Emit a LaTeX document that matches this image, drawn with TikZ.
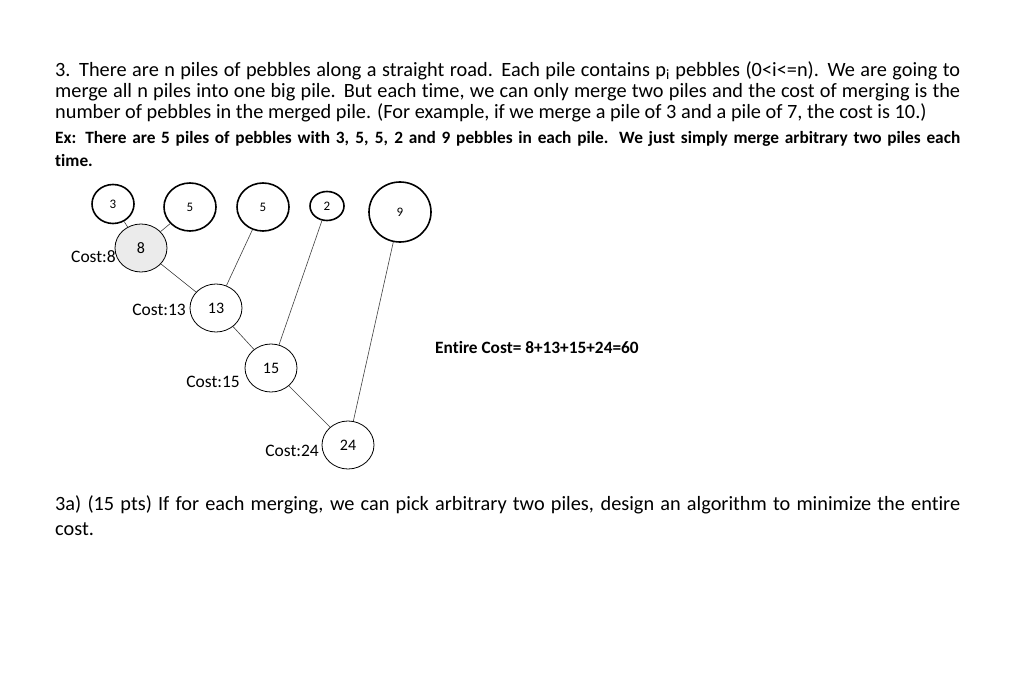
\documentclass[tikz,border=0pt]{standalone}
\usepackage{fontspec}
\setmainfont{Carlito}[Ligatures={NoCommon}]
\usetikzlibrary{shapes.geometric}
\begin{document}
\begin{tikzpicture}[x=1pt,y=-1pt,
  pile/.style={draw,ellipse,line width=1.6pt,inner sep=0pt,font=\fontsize{13}{15}\selectfont},
  merged/.style={draw,ellipse,line width=0.8pt,inner sep=0pt,font=\fontsize{16}{18}\selectfont},
  costlbl/.style={font=\fontsize{17.5}{20}\selectfont,inner sep=0pt},
  txt/.style={anchor=west,inner sep=0pt,text width=905pt,align=justify,font=\fontsize{20.3}{24}\selectfont},
  btxt/.style={anchor=west,inner sep=0pt,text width=905pt,align=justify,font=\fontsize{17.3}{20}\selectfont\bfseries},
  link/.style={line width=0.6pt, draw=black!75}]
\useasboundingbox[fill=white] (0,0) rectangle (1024,684);
\node[txt] (l1) at (55,71) {\hbox to 905pt{3. There are n piles of pebbles along a straight road. Each pile contains p$_{\mathrm{i}}$ pebbles (0<i<=n). We are going to}};
\node[txt] (l2) at (55,92) {\hbox to 905pt{merge all n piles into one big pile. But each time, we can only merge two piles and the cost of merging is the}};
\node[txt] (l3) at (55,113) {number of pebbles in the merged pile. (For example, if we merge a pile of 3 and a pile of 7, the cost is 10.)};
\node[btxt] (l4) at (55,139) {\hbox to 905pt{Ex: There are 5 piles of pebbles with 3, 5, 5, 2 and 9 pebbles in each pile. We just simply merge arbitrary two piles each}};
\node[btxt] (l5) at (55,160) {time.};
\node[pile,minimum width=42pt,minimum height=39pt] (p3) at (113,204) {3};
\node[pile,minimum width=52pt,minimum height=48pt] (p5a) at (190,207) {5};
\node[pile,minimum width=52pt,minimum height=48pt] (p5b) at (263,207) {5};
\node[pile,minimum width=34pt,minimum height=29pt] (p2) at (327,206) {2};
\node[pile,minimum width=62pt,minimum height=60pt] (p9) at (400,212) {9};
\node[merged,fill=black!8,minimum width=52pt,minimum height=48pt] (m8) at (141,248) {8};
\node[merged,minimum width=52pt,minimum height=48pt] (m13) at (216,308) {13};
\node[merged,minimum width=52pt,minimum height=48pt] (m15) at (271,368) {15};
\node[merged,minimum width=52pt,minimum height=48pt] (m24) at (348,445) {24};
\node[costlbl,anchor=east] (c8) at (116,257) {Cost:8};
\node[costlbl,anchor=east] (c13) at (186,310) {Cost:13};
\node[costlbl,anchor=east] (c15) at (240,382) {Cost:15};
\node[costlbl,anchor=east] (c24) at (319,451) {Cost:24};
\node[costlbl,anchor=west,font=\fontsize{17.3}{20}\selectfont\bfseries] (tot) at (435,347) {Entire Cost= 8+13+15+24=60};
\draw[link] (p3) -- (m8);
\draw[link] (p5a) -- (m8);
\draw[link] (m8) -- (m13);
\draw[link] (p5b) -- (m13);
\draw[link] (m13) -- (m15);
\draw[link] (p2) -- (m15);
\draw[link] (m15) -- (m24);
\draw[link] (p9) -- (m24);
\node[txt] (q1) at (55,505) {\hbox to 905pt{3a) (15 pts) If for each merging, we can pick arbitrary two piles, design an algorithm to minimize the entire}};
\node[txt] (q2) at (55,529) {cost.};
\end{tikzpicture}
\end{document}
